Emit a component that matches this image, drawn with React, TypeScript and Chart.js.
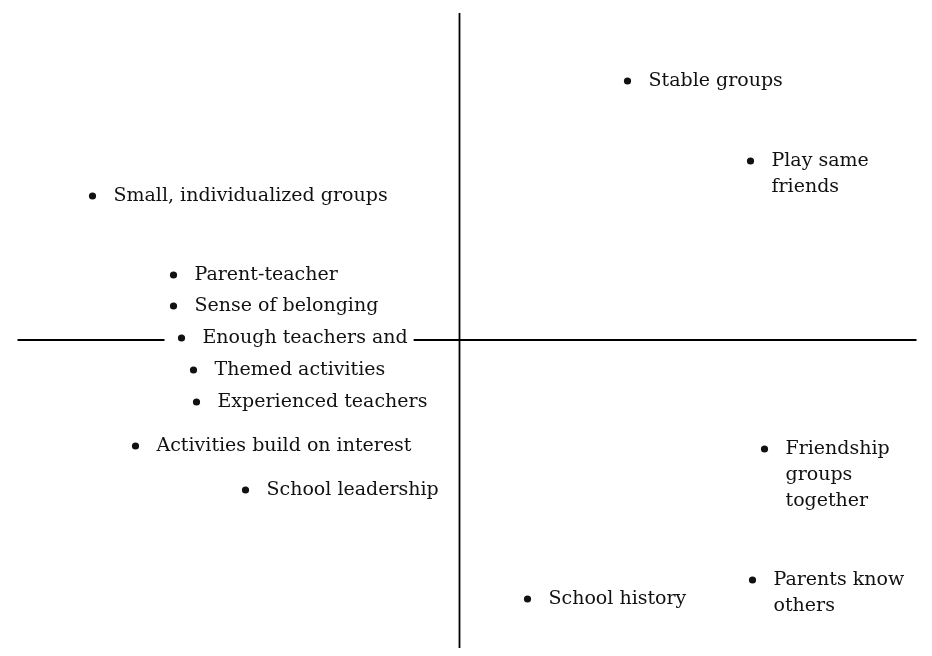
import { useEffect, useRef } from "react"
import { Chart, registerables } from "chart.js"

Chart.register(...registerables)

// Factors placed on the two-axis map (origin at the cross)
const labels = [
  ["Stable groups"],
  ["Play same", "friends"],
  ["Small, individualized groups"],
  ["Parent-teacher"],
  ["Sense of belonging"],
  ["Enough teachers and"],
  ["Themed activities"],
  ["Experienced teachers"],
  ["Activities build on interest"],
  ["School leadership"],
  ["Friendship", "groups", "together"],
  ["School history"],
  ["Parents know", "others"],
]
const xValues = [1.68, 2.91, -3.67, -2.86, -2.86, -2.78, -2.66, -2.63, -3.24, -2.14, 3.05, 0.68, 2.93]
const yValues = [2.59, 1.79, 1.44, 0.65, 0.34, 0.02, -0.3, -0.62, -1.06, -1.5, -1.09, -2.59, -2.4]

// extents of the two axes lines
const hAxisRange = [-4.42, 4.57]
const vAxisRange = [-3.08, 3.27]

const FONT = "19px 'DejaVu Serif'"

export default function App() {
  const chartRef = useRef<HTMLCanvasElement>(null)
  const chartInstance = useRef<Chart | null>(null)

  useEffect(() => {
    if (!chartRef.current) return
    if (chartInstance.current) chartInstance.current.destroy()
    const ctx = chartRef.current.getContext("2d")
    if (!ctx) return

    // cross lines + white boxes behind labels, under the dots
    const crossPlugin = {
      id: "cross",
      beforeDatasetsDraw(chart: any) {
        const { ctx, scales } = chart
        const x = scales.x
        const y = scales.y
        ctx.save()
        ctx.strokeStyle = "#000"
        ctx.lineWidth = 1.8
        ctx.beginPath()
        ctx.moveTo(x.getPixelForValue(hAxisRange[0]), y.getPixelForValue(0))
        ctx.lineTo(x.getPixelForValue(hAxisRange[1]), y.getPixelForValue(0))
        ctx.moveTo(x.getPixelForValue(0), y.getPixelForValue(vAxisRange[0]))
        ctx.lineTo(x.getPixelForValue(0), y.getPixelForValue(vAxisRange[1]))
        ctx.stroke()

        ctx.font = FONT
        ctx.fillStyle = "#fff"
        labels.forEach((lines, i) => {
          const px = x.getPixelForValue(xValues[i])
          const py = y.getPixelForValue(yValues[i])
          const w = Math.max(...lines.map((l) => ctx.measureText(l).width))
          // 17px before the bullet, 6px after the text
          ctx.fillRect(px - 17, py - 12, 17 + 21 + w + 6, 24 + (lines.length - 1) * 26)
        })
        ctx.restore()
      },
      afterDatasetsDraw(chart: any) {
        const { ctx, scales } = chart
        ctx.save()
        ctx.font = FONT
        ctx.fillStyle = "#111"
        ctx.textBaseline = "middle"
        ctx.textAlign = "left"
        labels.forEach((lines, i) => {
          const px = scales.x.getPixelForValue(xValues[i])
          const py = scales.y.getPixelForValue(yValues[i])
          lines.forEach((l, j) => ctx.fillText(l, px + 21, py + j * 26))
        })
        ctx.restore()
      },
    }

    chartInstance.current = new Chart(ctx, {
      type: "scatter",
      data: {
        datasets: [
          {
            data: xValues.map((v, i) => ({ x: v, y: yValues[i] })),
            backgroundColor: "#111",
            borderWidth: 0,
            pointRadius: 3.6,
          },
        ],
      },
      options: {
        responsive: true,
        maintainAspectRatio: false,
        animation: false,
        layout: { padding: 0, autoPadding: false },
        plugins: {
          legend: { display: false },
          tooltip: { enabled: false },
        },
        scales: {
          x: { display: false, min: -4.595, max: 4.725 },
          y: { display: false, min: -3.16, max: 3.4 },
        },
      },
      plugins: [crossPlugin],
    })

    return () => {
      if (chartInstance.current) chartInstance.current.destroy()
    }
  }, [])

  return (
    <div style={{ position: "fixed", left: 0, top: 0, width: 932, height: 656, background: "#fff" }}>
      <canvas ref={chartRef}></canvas>
    </div>
  )
}
